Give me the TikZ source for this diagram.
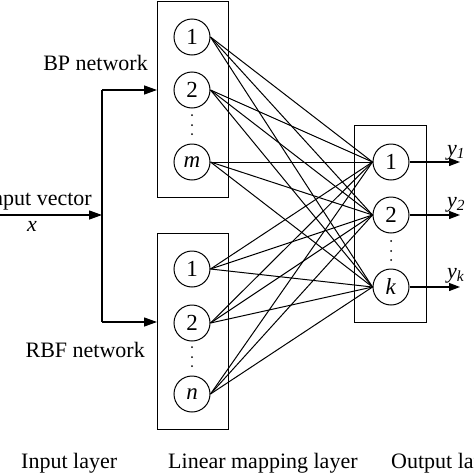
\documentclass[tikz,border=0pt]{standalone}
\usepackage{fontspec}
\setmainfont{Liberation Serif}
\usetikzlibrary{arrows.meta}
\begin{document}
\begin{tikzpicture}[x=1pt,y=-1pt,
  neuron/.style={circle,draw,line width=1pt,minimum size=36pt,inner sep=0pt,font=\fontsize{23}{25}\selectfont},
  layerbox/.style={draw,line width=1pt,inner sep=0pt},
  lbl/.style={font=\fontsize{22}{24}\selectfont,inner sep=0pt},
  link/.style={line width=1pt},
  feed/.style={line width=1.3pt},
  arr/.style={line width=1.3pt,-{Triangle[length=13pt,width=9pt]}},
  outarr/.style={line width=1.2pt,-{Triangle[length=11pt,width=8pt]}},
  vdot/.style={circle,fill,inner sep=0pt,minimum size=2pt}]
\useasboundingbox (0,0) rectangle (474,474);
\clip (0,0) rectangle (474,474);
% layer boxes
\node[layerbox,minimum width=71pt,minimum height=196pt] (bp) at (192.5,99) {};
\node[layerbox,minimum width=71pt,minimum height=196pt] (rbf) at (192.5,331) {};
\node[layerbox,minimum width=72pt,minimum height=197pt] (out) at (390,223.5) {};
% BP neurons
\node[neuron] (b1) at (192,37) {1};
\node[neuron] (b2) at (192,90) {2};
\node[neuron] (bm) at (192,162) {\textit{m}};
\node[vdot] (bd1) at (192,115) {};
\node[vdot] (bd2) at (192,125) {};
\node[vdot] (bd3) at (192,134) {};
% RBF neurons
\node[neuron] (r1) at (192,269) {1};
\node[neuron] (r2) at (192,323) {2};
\node[neuron] (rn) at (192,394) {\textit{n}};
\node[vdot] (rd1) at (192,347) {};
\node[vdot] (rd2) at (192,357) {};
\node[vdot] (rd3) at (192,366) {};
% output neurons
\node[neuron] (o1) at (391,162) {1};
\node[neuron] (o2) at (391,215) {2};
\node[neuron] (ok) at (391,287) {\textit{k}};
\node[vdot] (od1) at (391,241) {};
\node[vdot] (od2) at (391,251) {};
\node[vdot] (od3) at (391,260) {};
% connections
\foreach \h in {b1,b2,bm,r1,r2,rn}
  \foreach \o in {o1,o2,ok}
    \draw[link] (\h.east) -- (\o.west);
% input feed
\coordinate (inL) at (-5,215);
\coordinate (split) at (102,215);
\coordinate (top) at (102,90);
\coordinate (bot) at (102,322);
\coordinate (bpin) at (157,90);
\coordinate (rbfin) at (157,322);
\draw[arr] (inL) -- (split);
\draw[feed] (top) -- (bot);
\draw[arr] (top) -- (bpin);
\draw[arr] (bot) -- (rbfin);
% outputs
\coordinate (y1e) at (460,162);
\coordinate (y2e) at (460,215);
\coordinate (yke) at (460,287);
\draw[outarr] (o1.east) -- (y1e);
\draw[outarr] (o2.east) -- (y2e);
\draw[outarr] (ok.east) -- (yke);
\node[lbl,anchor=base west] (ly1) at (447,155) {\textit{y}\textsubscript{\textit{1}}};
\node[lbl,anchor=base west] (ly2) at (447,207) {\textit{y}\textsubscript{\textit{2}}};
\node[lbl,anchor=base west] (lyk) at (447,278) {\textit{y}\textsubscript{\textit{k}}};
% labels
\node[lbl,anchor=base east] (lbp) at (148,70) {BP network};
\node[lbl,anchor=base east] (lrbf) at (145,357) {RBF network};
\node[lbl,anchor=base east] (lin) at (92,205) {Input vector};
\node[lbl,anchor=base] (lx) at (32,231) {\textit{x}};
\node[lbl,anchor=base west] (l1) at (21,468) {Input layer};
\node[lbl,anchor=base west] (l2) at (168,468) {Linear mapping layer};
\node[lbl,anchor=base west] (l3) at (391,468) {Output layer};
\end{tikzpicture}
\end{document}
